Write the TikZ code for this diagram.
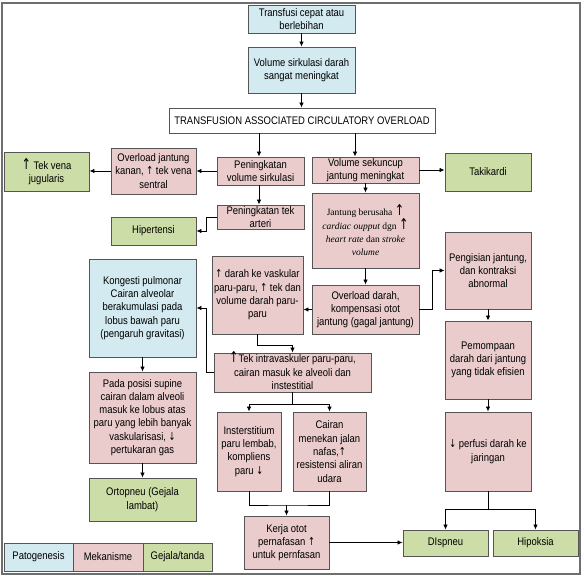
\documentclass[tikz,border=0pt]{standalone}
\usepackage{fontspec}
\setmainfont[FakeStretch=0.86]{Liberation Sans}
\newfontfamily\serifb{Liberation Serif}
\newfontfamily\dvs[FakeStretch=0.75]{DejaVu Sans}
\usetikzlibrary{arrows.meta,calc}
\definecolor{cblue}{RGB}{210,234,240}
\definecolor{cpink}{RGB}{234,204,204}
\definecolor{cgreen}{RGB}{205,221,167}
\definecolor{bord}{RGB}{85,85,85}
\definecolor{framec}{RGB}{110,110,110}
\newcommand\ua{{\dvs ↑}}
\newcommand\da{{\dvs ↓}}
\newcommand\bua{{\dvs\fontsize{15}{13}\selectfont ↑}}
\tikzset{
  bx/.style={draw=bord, line width=0.9pt, align=center, inner xsep=0pt, inner ysep=1pt, font=\fontsize{11}{13.3}\selectfont},
  pk/.style={bx, fill=cpink},
  bl/.style={bx, fill=cblue},
  gr/.style={bx, fill=cgreen},
  wh/.style={bx, fill=white},
  sz/.style n args={2}{minimum width=#1pt, minimum height=#2pt},
  arr/.style={-{Latex[length=5pt,width=4.5pt]}, line width=0.8pt},
  ln/.style={line width=0.8pt},
}
\begin{document}
\begin{tikzpicture}[x=1pt,y=-1pt]
\useasboundingbox (0,0) rectangle (584,583);
\draw[framec, line width=1.2pt] (2,3) rectangle (580,574);

\node[bl, sz={107}{28}] (top) at (301.5,19) {Transfusi cepat atau\\berlebihan};
\node[bl, sz={107}{46}] (vol) at (301.5,70) {Volume sirkulasi darah\\sangat meningkat};
\node[wh, sz={266}{25}] (taco) at (302,120.5) {TRANSFUSION ASSOCIATED CIRCULATORY OVERLOAD};
\node[pk, sz={87}{28}] (pvs) at (260.5,171) {Peningkatan\\volume sirkulasi};
\node[pk, sz={107}{26}] (vsj) at (365.5,170) {Volume sekuncup\\jantung meningkat};
\node[pk, sz={85}{46}] (ojk) at (153.5,171) {Overload jantung\\kanan, \ua{} tek vena\\sentral};
\node[gr, sz={85}{39}] (tvj) at (46.5,171.5) {\bua{} Tek vena\\jugularis};
\node[gr, sz={86}{38}] (tak) at (488,172) {Takikardi};
\node[pk, sz={87}{24}] (pta) at (260.5,217) {Peningkatan tek\\arteri};
\node[gr, sz={85}{28}] (hip) at (153.5,231) {Hipertensi};
\node[pk, sz={107}{75}, font=\serifb\fontsize{9.5}{13}\selectfont] (jb) at (365.5,230.5)
  {Jantung berusaha \bua\\\textit{cardiac oupput} dgn \bua\\\textit{heart rate} dan \textit{stroke}\\\textit{volume}};
\node[pk, sz={86}{77}] (pja) at (488,270.5) {Pengisian jantung,\\dan kontraksi\\abnormal};
\node[bl, sz={107}{98}] (kp) at (142.5,308) {Kongesti pulmonar\\Cairan alveolar\\berakumulasi pada\\lobus bawah paru\\(pengaruh gravitasi)};
\node[pk, sz={91}{78}] (dv) at (257.5,295) {\ua{} darah ke vaskular\\paru-paru, \ua{} tek dan\\volume darah paru-\\paru};
\node[pk, sz={107}{49}] (od) at (365.5,309.5) {Overload darah,\\kompensasi otot\\jantung (gagal jantung)};
\node[pk, sz={86}{78}] (pem) at (488,360) {Pemompaan\\darah dari jantung\\yang tidak efisien};
\node[pk, sz={157}{39}] (ti) at (292.5,372.5) {};
\node[bx, draw=none, anchor=north, inner ysep=0pt] (tit) at ([yshift=1pt]ti.north) {\bua{}Tek intravaskuler paru-paru,\\cairan masuk ke alveoli dan\\instestitial};
\node[pk, sz={107}{91}] (pps) at (142.5,417.5) {Pada posisi supine\\cairan dalam alveoli\\masuk ke lobus atas\\paru yang lebih banyak\\vaskularisasi, \da\\pertukaran gas};
\node[pk, sz={64}{79}] (ins) at (249,451.5) {Insterstitium\\paru lembab,\\kompliens\\paru \da};
\node[pk, sz={73}{79}] (cai) at (329.5,451.5) {Cairan\\menekan jalan\\nafas,\ua\\resistensi aliran\\udara};
\node[pk, sz={86}{79}] (pdj) at (488,451.5) {\da{} perfusi darah ke\\jaringan};
\node[gr, sz={107}{43}] (ort) at (142.5,499.5) {Ortopneu (Gejala\\lambat)};
\node[pk, sz={85}{53}] (kop) at (286.5,542.5) {Kerja otot\\pernafasan \ua\\untuk pernfasan};
\node[gr, sz={85}{26}] (dis) at (445.5,543) {DIspneu};
\node[gr, sz={85}{26}] (hpk) at (535.5,543) {Hipoksia};

\node[bl, sz={69}{28}] (lg1) at (38.5,557) {Patogenesis};
\node[pk, sz={70}{28}] (lg2) at (108,557) {Mekanisme};
\node[gr, sz={69}{28}] (lg3) at (177.5,557) {Gejala/tanda};

\draw[arr] (top.south) -- (vol.north);
\draw[arr] (vol.south) -- (vol.south |- taco.north);
\draw[arr] ([xshift=-1.5pt]pvs.north |- taco.south) -- ([xshift=-1.5pt]pvs.north);
\draw[arr] ([xshift=-10.5pt]vsj.north |- taco.south) -- ([xshift=-10.5pt]vsj.north);
\draw[arr] (pvs.west) -- (ojk.east);
\draw[arr] (ojk.west) -- (ojk.west -| tvj.east);
\draw[arr] ([xshift=-1.5pt]pvs.south) -- ([xshift=-1.5pt]pta.north);
\draw[arr] (pta.west) -- ++(-10,0) |- (hip.east);
\draw[arr] (vsj.east) -- (vsj.east -| tak.west);
\draw[arr] (vsj.south) -- (jb.north);
\draw[arr] (jb.south) -- (od.north);
\draw[arr] (od.east) -- ++(13,0) |- (pja.west);
\draw[arr] (pja.south) -- (pem.north);
\draw[arr] (pem.south) -- (pdj.north);
\draw[ln] (pdj.south) -- ++(0,18) coordinate (sp);
\draw[arr] (sp) -| (dis.north);
\draw[arr] (sp) -| (hpk.north);
\draw[arr] (od.west) -- (od.west -| dv.east);
\draw[arr] (dv.south) -- ++(0,11) -| (ti.north);
\draw[arr] (ti.west) -- ++(-7,0) |- (kp.east);
\draw[arr] (kp.south) -- (pps.north);
\draw[arr] (pps.south) -- (ort.north);
\draw[ln] (ti.south) -- ++(0,12) coordinate (s2);
\draw[arr] (s2) -| (ins.north);
\draw[arr] (s2) -| (cai.north);
\coordinate (j) at (286.5,505);
\draw[ln] (ins.south) |- (j) -| (cai.south);
\draw[arr] (j) -- (kop.north);
\draw[arr] (kop.east) -- (kop.east -| dis.west);
\end{tikzpicture}
\end{document}
